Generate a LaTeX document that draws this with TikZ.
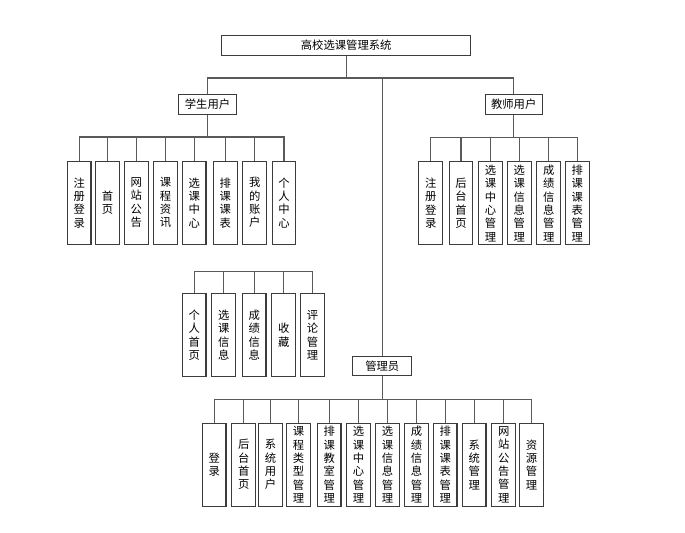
\documentclass[tikz,border=0pt]{standalone}
\usepackage{fontspec}
\usepackage{xcolor}
\newfontfamily\cjk{Noto Sans CJK SC}
\definecolor{boxLine}{HTML}{3C3C3C}
\definecolor{wireGray}{HTML}{5A5A5A}

\tikzset{
  hbox/.style={draw=boxLine, line width=0.8pt, fill=white, inner sep=0pt,
    font=\cjk\fontsize{8.5}{10}\selectfont},
  vbox/.style={hbox, minimum width=17.7pt, minimum height=62.3pt, align=center},
  wire/.style={draw=wireGray, line width=0.8pt}
}

\begin{document}
\begin{tikzpicture}[x=0.75pt,y=-0.75pt]
\useasboundingbox (0,0) rectangle (685,532);

% top levels
\node[hbox, minimum width=186.7pt, minimum height=14.7pt] (root) at (346.2,45.5) {高校选课管理系统};
\node[hbox, minimum width=43.5pt, minimum height=15pt] (stu) at (207.5,104.2) {学生用户};
\node[hbox, minimum width=43pt, minimum height=15pt] (tea) at (513.7,104.3) {教师用户};
\node[hbox, minimum width=44.3pt, minimum height=14.5pt] (adm) at (382.3,365.7) {管理员};

\coordinate (top) at (346.2,78);
\draw[wire] (root.south) -- (top);
\draw[wire] (stu.north) |- (top) -| (tea.north);
\draw[wire] (adm.north) -- (adm.north |- top);

% student
\foreach \i/\x/\t in {1/79.2/{注\\册\\登\\录}, 2/107.5/{首\\页}, 3/136.3/{网\\站\\公\\告},
  4/165.5/{课\\程\\资\\讯}, 5/194.2/{选\\课\\中\\心}, 6/225.3/{排\\课\\课\\表},
  7/254.7/{我\\的\\账\\户}, 8/284/{个\\人\\中\\心}}
  \node[vbox] (s\i) at (\x,202.7) {\t};
\coordinate (sbus) at (207.5,137);
\draw[wire] (stu.south) -- (sbus);
\foreach \i in {1,...,8}
  \draw[wire] (sbus) -| (s\i.north);

% teacher
\foreach \i/\x/\t in {1/430.7/{注\\册\\登\\录}, 2/461/{后\\台\\首\\页},
  3/490.5/{选\\课\\中\\心\\管\\理}, 4/519.3/{选\\课\\信\\息\\管\\理},
  5/548.7/{成\\绩\\信\\息\\管\\理}, 6/577.3/{排\\课\\课\\表\\管\\理}}
  \node[vbox] (t\i) at (\x,203.3) {\t};
\coordinate (tbus) at (513.7,137.3);
\draw[wire] (tea.south) -- (tbus);
\foreach \i in {1,...,6}
  \draw[wire] (tbus) -| (t\i.north);

% personal center
\foreach \i/\x/\t in {1/194.2/{个\\人\\首\\页}, 2/223.7/{选\\课\\信\\息},
  3/254.2/{成\\绩\\信\\息}, 4/283.7/{收\\藏}, 5/312.5/{评\\论\\管\\理}}
  \node[vbox] (p\i) at (\x,335.2) {\t};
\coordinate (pbus) at (254.2,271.7);
\foreach \i in {1,...,5}
  \draw[wire] (pbus) -| (p\i.north);

% admin
\foreach \i/\x/\t in {1/214.2/{登\\录}, 2/243.7/{后\\台\\首\\页}, 3/270.5/{系\\统\\用\\户},
  4/298.5/{课\\程\\类\\型\\管\\理}, 5/329.2/{排\\课\\教\\室\\管\\理},
  6/358.5/{选\\课\\中\\心\\管\\理}, 7/387.5/{选\\课\\信\\息\\管\\理},
  8/416.5/{成\\绩\\信\\息\\管\\理}, 9/445.2/{排\\课\\课\\表\\管\\理},
  10/474.2/{系\\统\\管\\理}, 11/503.7/{网\\站\\公\\告\\管\\理}, 12/531.5/{资\\源\\管\\理}}
  \node[vbox] (a\i) at (\x,464.7) {\t};
\coordinate (abus) at (382.3,399.5);
\draw[wire] (adm.south) -- (abus);
\foreach \i in {1,...,12}
  \draw[wire] (abus) -| (a\i.north);
\end{tikzpicture}
\end{document}
